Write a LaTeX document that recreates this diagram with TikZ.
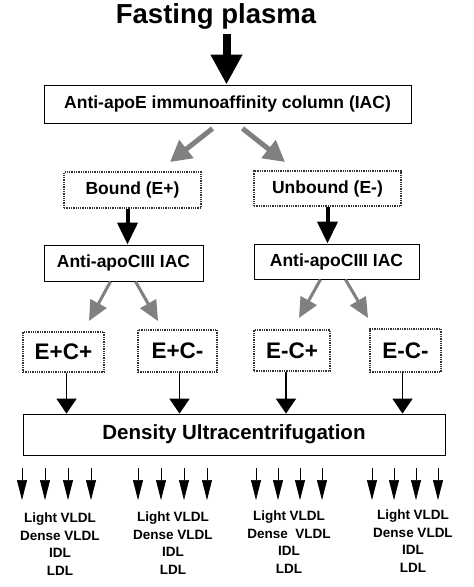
\documentclass[tikz,border=0pt]{standalone}
\usepackage{fontspec}
\setmainfont{Liberation Sans}
\usetikzlibrary{arrows.meta}

\begin{document}
\begin{tikzpicture}[x=1pt,y=-1pt,
    boxtext/.style={font=\bfseries\fontsize{17.5}{20}\selectfont},
    solidbox/.style={draw,line width=1pt,inner sep=0pt,boxtext},
    dotbox/.style={draw=black!80,densely dotted,line width=1.3pt,inner sep=0pt,boxtext},
    fraction/.style={dotbox,font=\bfseries\fontsize{22.5}{25}\selectfont},
    bigarrow/.style={line width=8pt,-{Triangle[length=30pt,width=30pt]}},
    midarrow/.style={line width=4pt,-{Triangle[length=22pt,width=20pt]}},
    thinarrow/.style={line width=1.8pt,-{Triangle[length=15pt,width=20pt]}},
    grayarrow/.style={draw=black!50,line width=5pt,-{Triangle[length=21pt,width=22pt]}},
    graysmall/.style={draw=black!50,line width=3pt,-{Triangle[length=20pt,width=18pt]}},
    tinyarrow/.style={line width=0.7pt,-{Triangle[length=20pt,width=10pt]}},
    fractext/.style={align=center,font=\bfseries\fontsize{13.5}{17.5}\selectfont}]
  \useasboundingbox (0,0) rectangle (474,587);

  \node[font=\bfseries\fontsize{27.5}{30}\selectfont] (plasma) at (216,16) {Fasting plasma};
  \node[solidbox,minimum width=367pt,minimum height=38pt] (apoE) at (227.5,104)
    {Anti-apoE immunoaffinity column (IAC)};

  \node[dotbox,minimum width=137pt,minimum height=36pt] (bound) at (132.5,190) {Bound (E+)};
  \node[dotbox,minimum width=147pt,minimum height=35pt] (unbound) at (327.5,188.5) {Unbound (E-)};

  \node[solidbox,minimum width=159pt,minimum height=36pt] (apoCL) at (123.5,263) {Anti-apoCIII IAC};
  \node[solidbox,minimum width=165pt,minimum height=35pt] (apoCR) at (336.5,261.5) {Anti-apoCIII IAC};

  \node[fraction,minimum width=81pt,minimum height=40pt] (EpCp) at (63.5,352) {E+C+};
  \node[fraction,minimum width=79pt,minimum height=42pt] (EpCm) at (177.5,351) {E+C-};
  \node[fraction,minimum width=76pt,minimum height=41pt] (EmCp) at (292,350.5) {E-C+};
  \node[fraction,minimum width=71pt,minimum height=43pt] (EmCm) at (405.5,350.5) {E-C-};

  \node[draw,line width=0.8pt,minimum width=422pt,minimum height=41pt,inner sep=0pt,
    font=\bfseries\fontsize{20.5}{23}\selectfont] (density) at (234,434.5)
    {Density Ultracentrifugation};

  % free ends of the gray arrows
  \coordinate (tipB) at (170,162);
  \coordinate (tipU) at (285,162);
  \coordinate (tip1) at (89,321);
  \coordinate (tip2) at (158,321);
  \coordinate (tip3) at (299,318);
  \coordinate (tip4) at (368,318);

  \draw[bigarrow] (plasma.south -| apoE.north) ++(-1,2) -- ([xshift=-1pt]apoE.north);
  \draw[grayarrow] ([shift={(-15,5)}]apoE.south) -- (tipB);
  \draw[grayarrow] ([shift={(15,5)}]apoE.south) -- (tipU);

  \draw[midarrow] ([xshift=-5pt]bound.south) -- ([xshift=-5pt]bound.south |- apoCL.north);
  \draw[midarrow] (unbound.south) -- (unbound.south |- apoCR.north);

  \draw[graysmall] ([xshift=-13pt]apoCL.south) -- (tip1);
  \draw[graysmall] ([xshift=12pt]apoCL.south) -- (tip2);
  \draw[graysmall] ([xshift=-16pt]apoCR.south) -- (tip3);
  \draw[graysmall] ([xshift=9pt]apoCR.south) -- (tip4);

  \draw[thinarrow] ([xshift=3pt]EpCp.south) -- ([xshift=3pt]EpCp.south |- density.north);
  \draw[thinarrow] ([xshift=2pt]EpCm.south) -- ([xshift=2pt]EpCm.south |- density.north);
  \draw[thinarrow] ([xshift=-6pt]EmCp.south) -- ([xshift=-6pt]EmCp.south |- density.north);
  \draw[thinarrow] ([xshift=-3pt]EmCm.south) -- ([xshift=-3pt]EmCm.south |- density.north);

  \foreach \x [count=\i] in {22,45,68,91,138,161,184,207,256,278,300,322,372,394,416,438}
    \draw[tinyarrow] (\x,468) coordinate (out\i) -- ++(0,32);

  \node[fractext] (lab1) at (60,544) {Light VLDL\\Dense VLDL\\IDL\\LDL};
  \node[fractext] (lab2) at (173,543) {Light VLDL\\Dense VLDL\\IDL\\LDL};
  \node[fractext] (lab3) at (289,542) {Light VLDL\\Dense\ \ VLDL\\IDL\\LDL};
  \node[fractext] (lab4) at (413,541) {Light VLDL\\Dense VLDL\\IDL\\LDL};
\end{tikzpicture}
\end{document}
